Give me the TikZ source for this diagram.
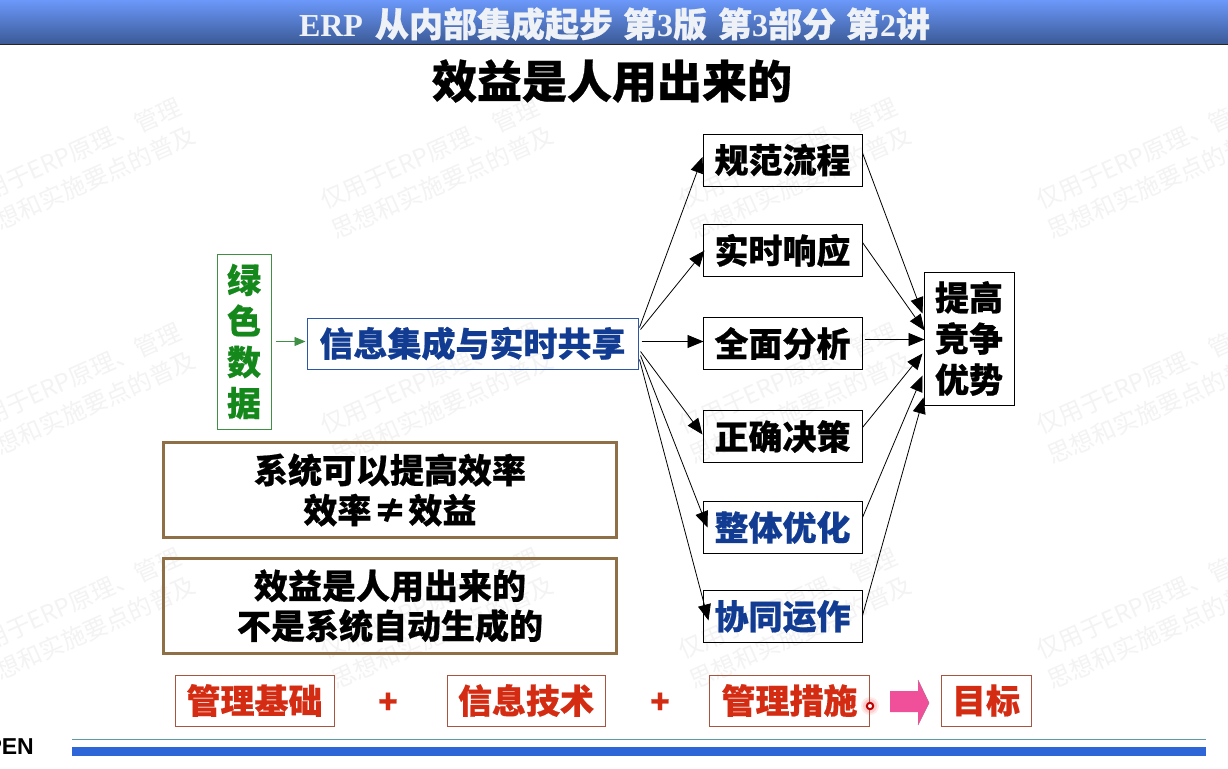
\documentclass[tikz,border=0pt]{standalone}
\usepackage{fontspec}
\setmainfont{Noto Sans CJK SC}[BoldFeatures={FakeBold=0.6}]
\newfontfamily\cjklight{Noto Sans CJK SC}
\newfontfamily\latinserif{Liberation Serif}
\newfontfamily\latinsans{Liberation Sans}
\usetikzlibrary{arrows.meta,calc}
\definecolor{hdtop}{HTML}{6B98FA}
\definecolor{hdbot}{HTML}{3B5A96}
\definecolor{hdtext}{HTML}{EEF2F6}
\definecolor{navy}{HTML}{123C92}
\definecolor{redtxt}{HTML}{D42C12}
\definecolor{redbox}{HTML}{A8543F}
\definecolor{grn}{HTML}{14881A}
\definecolor{grnbox}{HTML}{3F8F45}
\definecolor{bluebox}{HTML}{2A57A8}
\definecolor{brn}{HTML}{8F6F45}
\definecolor{barblue}{HTML}{2E66D8}
\definecolor{barline}{HTML}{5C9AA6}
\definecolor{pinkarr}{HTML}{F0509A}
\definecolor{wm}{HTML}{F3F3F3}
\newcommand{\hdserif}[1]{{\latinserif\fontsize{32}{38}\selectfont #1}}
\tikzset{
  x=1pt,y=-1pt,
  box/.style={draw,line width=1pt,inner sep=0pt,font=\bfseries\fontsize{34}{41}\selectfont,align=center},
  stepbox/.style={box,black,minimum width=159pt,minimum height=52pt},
  optbox/.style={box,draw=black,text=navy,minimum width=159pt,minimum height=52pt},
  redb/.style={box,draw=redbox,text=redtxt,minimum height=51pt},
  brnb/.style={box,draw=brn,line width=3.5pt,minimum width=453pt,minimum height=95pt,text=black,font=\bfseries\fontsize{34}{40}\selectfont},
  conn/.style={-{Triangle[length=16pt,width=13pt]},line width=.8pt,black},
  wmark/.style={text=wm,rotate=24,align=center,inner sep=0pt,font=\cjklight\fontsize{24}{32}\selectfont},
}
\begin{document}
\begin{tikzpicture}
\useasboundingbox (0,0) rectangle (1228,768);
\fill[white] (0,0) rectangle (1228,768);
% watermarks
\foreach \wx in {78,436,794,1152}{\foreach \wy in {168,393,618}{
  \node[wmark] at (\wx,\wy) {仅用于ERP原理、管理\\思想和实施要点的普及};
}}
% header
\shade[top color=hdtop,bottom color=hdbot] (0,0) rectangle (1228,44);
\draw[line width=1pt,black!85] (0,44.5) -- (1228,44.5);
\node[text=hdtext,inner sep=0pt,font=\bfseries\fontsize{34}{38}\selectfont] (header) at (614.5,24)
  {\hdserif{ERP}\hspace{12pt}从内部集成起步\hspace{10pt}第\hdserif{3}版\hspace{11pt}第\hdserif{3}部分\hspace{10pt}第\hdserif{2}讲};
\node[inner sep=0pt,font=\bfseries\fontsize{45}{50}\selectfont] (title) at (612,81) {效益是人用出来的};
% right column
\node[stepbox] (a) at (782.5,160) {规范流程};
\node[stepbox] (b) at (782.5,250.5) {实时响应};
\node[stepbox] (c) at (782.5,343.5) {全面分析};
\node[stepbox] (d) at (782.5,436.5) {正确决策};
\node[optbox]  (e) at (782.5,527.5) {整体优化};
\node[optbox]  (f) at (782.5,616.5) {协同运作};
\node[box,minimum width=90pt,minimum height=133pt] (goal) at (969,338.5) {提高\\竞争\\优势};
% left
\node[box,draw=grnbox,text=grn,minimum width=54pt,minimum height=175pt] (green) at (244,341.5) {绿\\色\\数\\据};
\node[box,draw=bluebox,text=navy,minimum width=331pt,minimum height=51pt] (info) at (472.5,343.5) {信息集成与实时共享};
\draw[-{Triangle[length=11pt,width=9pt]},line width=.9pt,grnbox] ([xshift=4pt]green.east) -- ([xshift=-1pt]green.east -| info.west);
\node[brnb] (n1) at (390,490) {系统可以提高效率\\效率\hspace{1.5pt}≠\hspace{1.5pt}效益};
\node[brnb] (n2) at (390,606) {效益是人用出来的\\不是系统自动生成的};
% connectors
\draw[conn] ([xshift=1pt,yshift=16pt]info.east) -- ([yshift=3pt]a.west);
\draw[conn] ([xshift=2pt,yshift=14pt]info.east) -- ([xshift=2pt]b.west);
\draw[conn] ([xshift=3pt,yshift=2pt]info.east) -- ([xshift=1pt,yshift=2pt]c.west);
\draw[conn] ([xshift=2pt,yshift=-8pt]info.east) -- ([yshift=2pt]d.west);
\draw[conn] ([xshift=2pt,yshift=-12pt]info.east) -- ([xshift=5pt]e.west);
\draw[conn] ([xshift=1pt,yshift=-16pt]info.east) -- ([xshift=6pt,yshift=-4pt]f.west);
\draw[conn] ([yshift=7pt]a.east) -- ([xshift=-1pt,yshift=25pt]goal.west);
\draw[conn] ([yshift=8pt]b.east) -- ([xshift=1pt,yshift=8pt]goal.west);
\draw[conn] ([xshift=2pt,yshift=4pt]c.east) -- ([xshift=1pt,yshift=-1pt]goal.west);
\draw[conn] ([yshift=9pt]d.east) -- ([xshift=-1pt,yshift=-15pt]goal.west);
\draw[conn] ([yshift=10pt]e.east) -- ([xshift=-1pt,yshift=-37pt]goal.west);
\draw[conn] ([yshift=1pt]f.east) -- ([yshift=-59pt]goal.west);
% bottom row
\node[redb,minimum width=159pt] (r1) at (254.5,700.5) {管理基础};
\node[redb,minimum width=158pt] (r2) at (526,700.5) {信息技术};
\node[redb,minimum width=160pt] (r3) at (789.5,700.5) {管理措施};
\node[redb,minimum width=90pt] (r4) at (986,700.5) {目标};
\node[inner sep=0pt,text=redtxt,font=\bfseries\fontsize{32}{34}\selectfont] (p1) at (388,703) {+};
\node[inner sep=0pt,text=redtxt,font=\bfseries\fontsize{32}{34}\selectfont] (p2) at (660,703) {+};
\fill[pinkarr] (890,691) -- (918,691) -- (918,680) -- (929,703) -- (918,725) -- (918,712) -- (890,712) -- cycle;
\draw[pinkarr!60!gray,line width=.6pt] (918,680) -- (929,703) -- (918,725);
% pointer dot
\fill[red!70!pink,opacity=.10] (870,706) circle (9);
\fill[red!70!pink,opacity=.15] (870,706) circle (7);
\draw[line width=2pt,draw=red!75!black,fill=white] (870,706) circle (3.2);
% footer
\draw[barline,line width=.8pt] (72,739.5) -- (1206,739.5);
\fill[barblue] (72,747) rectangle (1206,756);
\begin{scope}
\clip (0,730) rectangle (40,768);
\node[anchor=east,inner sep=0pt,font=\latinsans\bfseries\fontsize{23}{26}\selectfont] (pen) at (34,747) {PEN};
\end{scope}
\end{tikzpicture}
\end{document}
